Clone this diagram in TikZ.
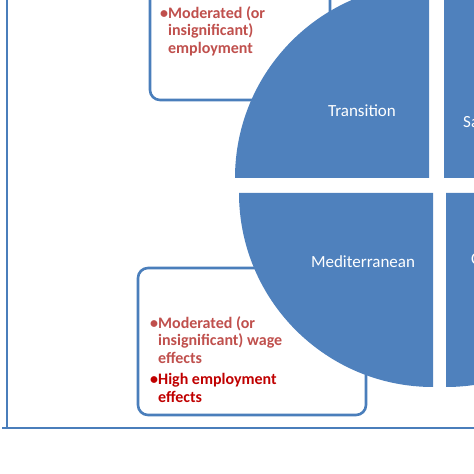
\documentclass[tikz,border=0pt]{standalone}
\usepackage{fontspec}
\setmainfont{Carlito}
\usetikzlibrary{positioning}
\definecolor{PieBlue}{HTML}{4F81BD}
\definecolor{EdgeBlue}{HTML}{4A7EBB}
\definecolor{SoftRed}{HTML}{C0504D}
\definecolor{DeepRed}{HTML}{C00000}

\begin{document}
\begin{tikzpicture}[x=1pt, y=1pt,
        quadrant/.style={fill=PieBlue, draw=none},
        quadlabel/.style={text=white, font=\fontsize{17}{20}\selectfont, inner sep=0pt},
        notebox/.style={draw=EdgeBlue, line width=2.6pt, rounded corners=10pt, fill=white},
        notetext/.style={align=left, inner sep=0pt, anchor=north west, font=\fontsize{16}{17.5}\selectfont\bfseries},
        axis/.style={draw=EdgeBlue, line width=1.8pt}]

    \useasboundingbox (0,0) rectangle (474,474);
    \clip (0,0) rectangle (474,474);

    % frame
    \draw[axis] (7,480) -- (7,46);
    \draw[axis] (2,46) -- (480,46);

    % note boxes, partly under the pie
    \draw[notebox] (150,374) rectangle (330,520);
    \draw[notebox] (138,59) rectangle (366,206);

    % pie quadrants
    \fill[quadrant] (429,296) -- (235,296) arc[start angle=180, end angle=90, radius=194] -- cycle;
    \fill[quadrant] (444,296) -- (444,490) arc[start angle=90, end angle=0, radius=194] -- cycle;
    \fill[quadrant] (433,281) -- (239,281) arc[start angle=180, end angle=270, radius=194] -- cycle;
    \fill[quadrant] (446,281) -- (640,281) arc[start angle=0, end angle=-90, radius=194] -- cycle;

    \node[quadlabel] (trans) at (362,363) {Transition};
    \node[quadlabel] (medit) at (363,212) {Mediterranean};
    \node[quadlabel, anchor=west] (saxon) at (463,352) {Sa};
    \node[quadlabel, anchor=west] (cont) at (471,215) {C};

    % notes
    \node[notetext, text=SoftRed] (empl) at (160,468) {•Moderated (or\\\hphantom{•}insignificant)\\\hphantom{•}employment};
    \node[notetext, text=SoftRed] (wage) at (150,158) {•Moderated (or\\\hphantom{•}insignificant) wage\\\hphantom{•}effects};
    \node[notetext, text=DeepRed, below=10pt of wage.south west, anchor=north west] (high) {•High employment\\\hphantom{•}effects};
\end{tikzpicture}
\end{document}
